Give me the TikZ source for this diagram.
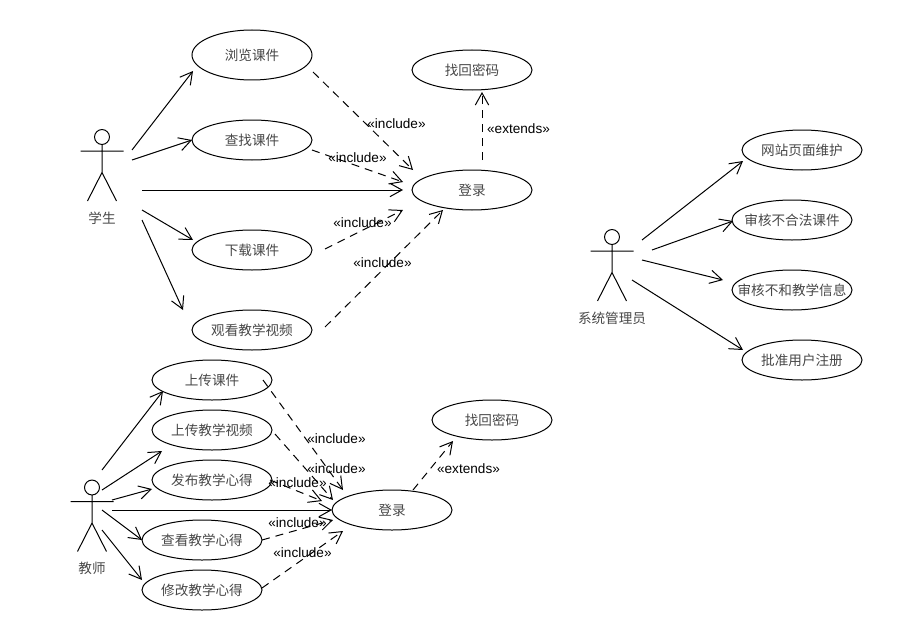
\documentclass[tikz,border=0pt]{standalone}
\usepackage{fontspec}
\setmainfont{Liberation Sans}
\newfontfamily\cjk{Noto Sans CJK SC}
\usetikzlibrary{shapes.geometric,arrows.meta}
\tikzset{
  usecase/.style={draw=black,ellipse,line width=.75pt,minimum width=90pt,minimum height=30pt,inner sep=0pt,outer sep=0pt,font=\cjk\fontsize{10.2pt}{12pt}\selectfont,text=black!72},
  widetext/.style={inner xsep=-20pt},
  who/.style={inner sep=0pt,font=\cjk\fontsize{10.2pt}{12pt}\selectfont,text=black!72},
  tag/.style={inner sep=0pt,font=\fontsize{10.2pt}{12pt}\selectfont,text=black},
  assoc/.style={draw=black,line width=.75pt,-{Straight Barb[length=9pt,width=10pt]}},
  dep/.style={assoc,dash pattern=on 6pt off 4.5pt},
  stick/.pic={
    \draw[line width=.75pt] (0,0) circle[radius=5.6pt] (0,7.5) -- (0,35.5) (-21.5,14) -- (21.5,14) (-14.5,64) -- (0,35.5) -- (14.5,64);
  }
}
\begin{document}
\begin{tikzpicture}[x=.75pt,y=-.75pt]
\useasboundingbox (0,0) rectangle (906,617);
% actors
\pic at (102,137) {stick};
\pic at (92,487.5) {stick};
\pic at (612,237) {stick};
\node[who] (student) at (102,218) {学生};
\node[who] (teacher) at (92,568) {教师};
\node[who] (admin) at (612,318) {系统管理员};
% student use cases
\node[usecase,minimum height=37.5pt] (browse) at (252,55) {浏览课件};
\node[usecase] (search) at (252,140) {查找课件};
\node[usecase] (download) at (252,250) {下载课件};
\node[usecase] (watch) at (252,330) {观看教学视频};
\node[usecase] (login) at (472,190) {登录};
\node[usecase] (recover) at (472,70) {找回密码};
% teacher use cases
\node[usecase] (upload) at (212,380) {上传课件};
\node[usecase] (uploadv) at (212,430) {上传教学视频};
\node[usecase] (publish) at (212,480) {发布教学心得};
\node[usecase] (view) at (202,540) {查看教学心得};
\node[usecase] (edit) at (202,590) {修改教学心得};
\node[usecase] (loginb) at (392,510) {登录};
\node[usecase] (recoverb) at (492,420) {找回密码};
% admin use cases
\node[usecase] (site) at (802,150) {网站页面维护};
\node[usecase,widetext] (audit) at (792,220) {审核不合法课件};
\node[usecase,widetext] (auditb) at (792,290) {审核不和教学信息};
\node[usecase] (approve) at (802,360) {批准用户注册};
% free ends
\foreach \n/\x/\y in {
  sa/132/150, sb/132/160, sc/142/190, sd/142/210, se/142/220,
  sat/193/71, sct/403/190, sdt/193/240, set/183/310,
  da/313/72, dat/413/170, db/312/150, dbt/403/182, dc/325/249, dct/403/210, dd/325/327, ddt/443/210,
  ea/482/160, eat/482/92,
  ta/102/470, tb/102/490, tc/112/500, td/112/510, te/102/510, tf/102/530,
  tat/163/391, tbt/162/451, tct/152/489, tet/142/540, tft/142/580,
  ua/263/380, uat/343/490, ub/275/434, ubt/333/500, uc/270/480, uct/322/501, ud/262/540, udt/333/520, ue/262/588, uet/343/531,
  eb/413/490, ebt/453/441,
  aa/642/240, aat/743/161, ab/652/250, abt/733/221, ac/642/260, act/723/280, ad/632/280, adt/743/350}
  {\coordinate (\n) at (\x,\y);}
% student links
\draw[assoc] (sa) -- (sat);
\draw[assoc] (sb) -- (search.west);
\draw[assoc] (sc) -- (sct);
\draw[assoc] (sd) -- (sdt);
\draw[assoc] (se) -- (set);
\draw[dep] (da) -- (dat);
\draw[dep] (db) -- (dbt);
\draw[dep] (dc) -- (dct);
\draw[dep] (dd) -- (ddt);
\draw[dep] (ea) -- (eat);
% teacher links
\draw[assoc] (ta) -- (tat);
\draw[assoc] (tb) -- (tbt);
\draw[assoc] (tc) -- (tct);
\draw[assoc] (td) -- (loginb.west);
\draw[assoc] (te) -- (tet);
\draw[assoc] (tf) -- (tft);
\draw[dep] (ua) -- (uat);
\draw[dep] (ub) -- (ubt);
\draw[dep] (uc) -- (uct);
\draw[dep] (ud) -- (udt);
\draw[dep] (ue) -- (uet);
\draw[dep] (eb) -- (ebt);
% admin links
\draw[assoc] (aa) -- (aat);
\draw[assoc] (ab) -- (abt);
\draw[assoc] (ac) -- (act);
\draw[assoc] (ad) -- (adt);
% labels
\node[tag] (l1) at (396.5,123.7) {«include»};
\node[tag] (l2) at (357.5,157.7) {«include»};
\node[tag] (l3) at (362.5,222.7) {«include»};
\node[tag] (l4) at (382.5,262.7) {«include»};
\node[tag] (l5) at (518.5,128.7) {«extends»};
\node[tag] (l6) at (336.5,438.7) {«include»};
\node[tag] (l7) at (336.5,468.7) {«include»};
\node[tag] (l8) at (297.5,482.7) {«include»};
\node[tag] (l9) at (297.5,522.2) {«include»};
\node[tag] (l10) at (302.5,552.7) {«include»};
\node[tag] (l11) at (468.5,468.7) {«extends»};
\end{tikzpicture}
\end{document}
